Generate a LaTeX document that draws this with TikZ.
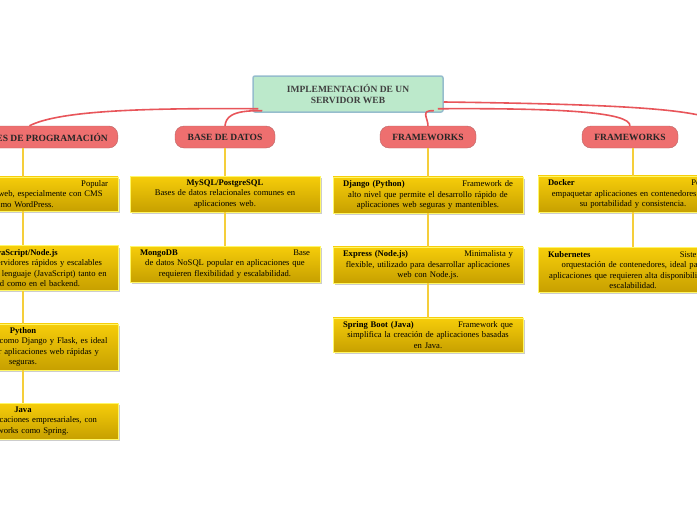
\documentclass[tikz,border=0pt]{standalone}
\usepackage{fontspec}
\setmainfont{Liberation Serif}
\usetikzlibrary{shadows}
\begin{document}
\begin{tikzpicture}[x=1pt,y=-1pt,
  root/.style={draw=cyan!40!gray!70,line width=1.5pt,fill=rootgreen,rounded corners=2pt,minimum width=190pt,minimum height=36pt,align=center,font=\bfseries\fontsize{9.5}{11}\selectfont,text=darkgray},
  cat/.style={draw=red!55!black!60,fill=catred,rounded corners=9pt,minimum height=22pt,font=\bfseries\fontsize{9.5}{11}\selectfont,text=black!85,inner xsep=10pt},
  item/.style={draw=yellow!60!white,top color=gold1,bottom color=gold2,minimum width=190pt,text width=170pt,align=center,font=\fontsize{8.6}{10.2}\selectfont,inner sep=4pt,drop shadow={fill=black!20,shadow xshift=2pt,shadow yshift=-2pt,opacity=1}},
  rl/.style={draw=linered,line width=1.6pt},
  yl/.style={draw=lineyel,line width=1.2pt}]
\definecolor{rootgreen}{HTML}{BCE9CB}
\definecolor{catred}{HTML}{EE6F6F}
\definecolor{gold1}{HTML}{F6CD0A}
\definecolor{gold2}{HTML}{C7A000}
\definecolor{linered}{HTML}{E8555A}
\definecolor{lineyel}{HTML}{F5CE3A}
\clip (0,0) rectangle (697,520);
\fill[white] (0,0) rectangle (697,520);
\useasboundingbox (0,0) rectangle (697,520);

\node[root] (r) at (348,94) {IMPLEMENTACIÓN DE UN\\SERVIDOR WEB};
\node[cat,anchor=east] (c1) at (118,137) {LENGUAJES DE PROGRAMACIÓN};
\node[cat,minimum width=100pt] (c2) at (225,137) {BASE DE DATOS};
\node[cat,minimum width=96pt] (c3) at (428,137) {FRAMEWORKS};
\node[cat,minimum width=96pt] (c4) at (630,137) {FRAMEWORKS};

\draw[rl] (r.south west) ++(6,-4) .. controls (150,108) and (60,110) .. (c1.north);
\draw[rl] (r.south west) ++(10,-2) .. controls (230,110) and (226,118) .. (c2.north);
\draw[rl] (r.south east) ++(-10,-2) .. controls (420,110) and (428,118) .. (c3.north);
\draw[rl] (r.south east) ++(-6,-4) .. controls (560,108) and (630,112) .. (c4.north);
\draw[rl] (r.east) ++(0,8) .. controls (600,104) and (680,108) .. (710,118);

\begin{scope}[every node/.append style={item}]
\node (a1) at (23,194) {\textbf{PHP}\hfill Popular\\para desarrollo web, especialmente con CMS\\como WordPress.};
\node (a2) at (23,268) {\textbf{JavaScript/Node.js}\\Permite crear servidores rápidos y escalables\\usando el mismo lenguaje (JavaScript) tanto en\\el frontend como en el backend.};
\node (a3) at (23,347) {\textbf{Python}\\Con frameworks como Django y Flask, es ideal\\para desarrollar aplicaciones web rápidas y\\seguras.};
\node (a4) at (23,421) {\textbf{Java}\\Ideal para aplicaciones empresariales, con\\frameworks como Spring.};
\node (b1) at (225,194) {\textbf{MySQL/PostgreSQL}\\Bases de datos relacionales comunes en\\aplicaciones web.};
\node (b2) at (225,264) {\textbf{MongoDB}\hfill Base\\de datos NoSQL popular en aplicaciones que\\requieren flexibilidad y escalabilidad.};
\node (f1) at (428,195) {\textbf{Django (Python)}\hfill Framework de\\alto nivel que permite el desarrollo rápido de\\aplicaciones web seguras y mantenibles.};
\node (f2) at (428,265) {\textbf{Express (Node.js)}\hfill Minimalista y\\flexible, utilizado para desarrollar aplicaciones\\web con Node.js.};
\node (f3) at (428,335) {\textbf{Spring Boot (Java)}\hfill Framework que\\simplifica la creación de aplicaciones basadas\\en Java.};
\node (d1) at (633,194) {\textbf{Docker}\hfill Permite\\empaquetar aplicaciones en contenedores para\\su portabilidad y consistencia.};
\node (d2) at (633,270) {\textbf{Kubernetes}\hfill Sistema de\\orquestación de contenedores, ideal para\\aplicaciones que requieren alta disponibilidad y\\escalabilidad.};
\end{scope}

\draw[yl] (a1.north) -- (a1.north |- c1.south); \draw[yl] (a1) -- (a2); \draw[yl] (a2) -- (a3); \draw[yl] (a3) -- (a4);
\draw[yl] (c2) -- (b1); \draw[yl] (b1) -- (b2);
\draw[yl] (c3) -- (f1); \draw[yl] (f1) -- (f2); \draw[yl] (f2) -- (f3);
\draw[yl] (d1.north) -- (d1.north |- c4.south); \draw[yl] (d1) -- (d2);
\end{tikzpicture}
\end{document}
